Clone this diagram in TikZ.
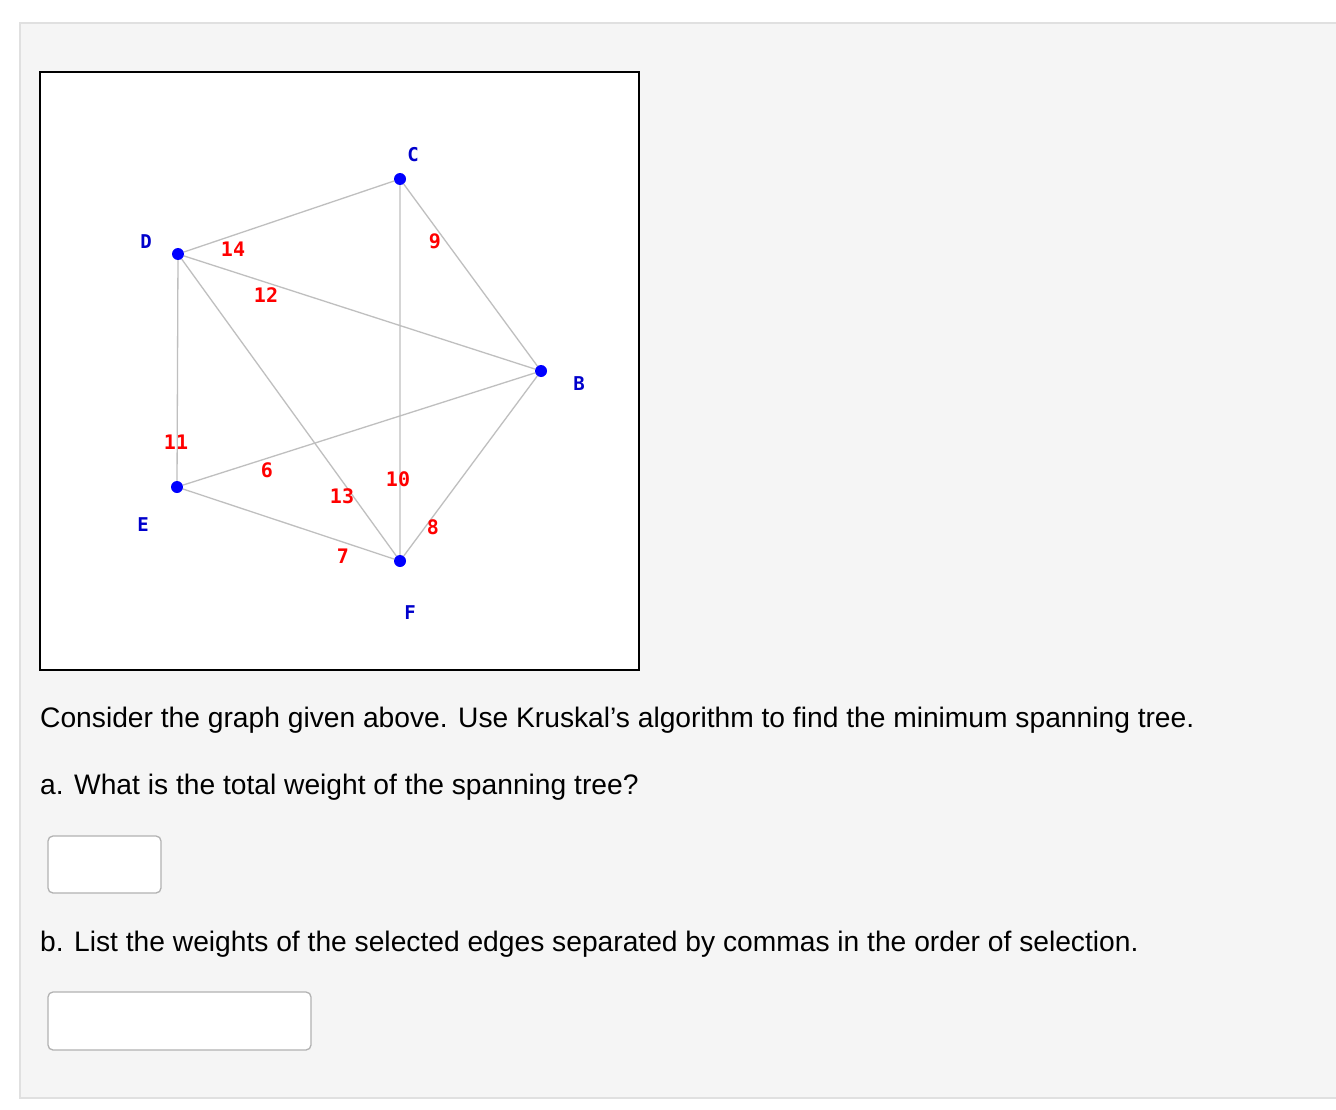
\documentclass[tikz,border=0pt]{standalone}
\usepackage{fontspec}
\setmainfont{Liberation Sans}
\newfontfamily\lblfont{DejaVu Sans Mono}
\begin{document}
\begin{tikzpicture}[x=1pt,y=-1pt,
  vtx/.style={circle,fill=blue,inner sep=0pt,minimum size=12pt},
  vlab/.style={text=blue!80!black,font=\lblfont\bfseries\fontsize{19}{19}\selectfont},
  wlab/.style={text=red,font=\lblfont\bfseries\fontsize{20}{20}\selectfont,inner sep=0pt},
  edge/.style={draw=black!25,line width=1.3pt},
  qtext/.style={anchor=west,font=\fontsize{28.2}{30}\selectfont,inner sep=0pt},
  ansbox/.style={draw=black!30,fill=white,rounded corners=5pt,line width=1.3pt}]
\useasboundingbox (0,0) rectangle (1336,1110);
\fill[white] (0,0) rectangle (1336,1110);
\draw[fill=black!4,draw=black!12,line width=1.3pt] (20,23) rectangle (1345,1098);
\draw[fill=white,draw=black,line width=1.3pt] (40,72) rectangle (639,670);
\node[vtx] (C) at (400,179) {};
\node[vtx] (D) at (178,254) {};
\node[vtx] (B) at (541,371) {};
\node[vtx] (E) at (177,487) {};
\node[vtx] (F) at (400,561) {};
\draw[edge] (D)--(C) (C)--(B) (D)--(B) (C)--(F) (D)--(F) (D)--(E) (E)--(B) (E)--(F) (B)--(F);
\node[vlab] (lC) at (413,155) {C};
\node[vlab] (lD) at (146,242) {D};
\node[vlab] (lB) at (579,384) {B};
\node[vlab] (lE) at (143,525) {E};
\node[vlab] (lF) at (410,613) {F};
\node[wlab] (w14) at (233,249) {14};
\node[wlab] (w9) at (435,241) {9};
\node[wlab] (w12) at (266,295) {12};
\node[wlab] (w11) at (176,442) {11};
\node[wlab] (w6) at (267,470) {6};
\node[wlab] (w10) at (398,479) {10};
\node[wlab] (w13) at (342,496) {13};
\node[wlab] (w8) at (433,527) {8};
\node[wlab] (w7) at (343,556) {7};
\node[qtext] (q) at (40,720) {Consider the graph given above. Use Kruskal's algorithm to find the minimum spanning tree.};
\node[qtext] (qa) at (40,787) {a. What is the total weight of the spanning tree?};
\draw[ansbox] (48,836) rectangle (161,893);
\node[qtext] (qb) at (40,944) {b. List the weights of the selected edges separated by commas in the order of selection.};
\draw[ansbox] (48,992) rectangle (311,1050);
\end{tikzpicture}
\end{document}
